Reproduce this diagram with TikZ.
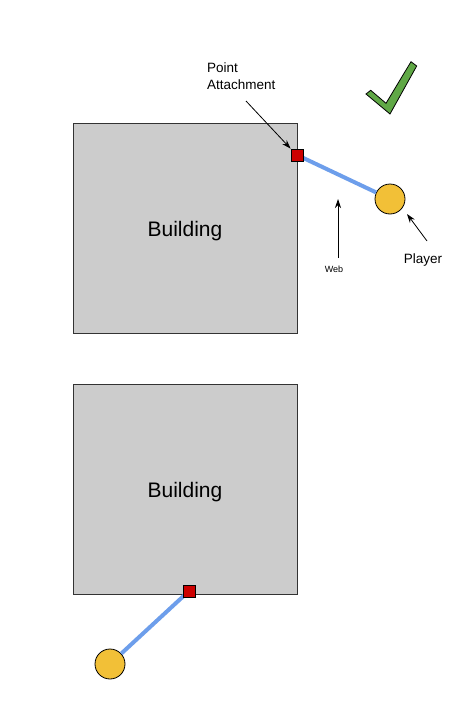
\documentclass[tikz,border=0pt]{standalone}
\usepackage{fontspec}
\setmainfont{Liberation Sans}
\usetikzlibrary{arrows.meta}
\definecolor{bgray}{HTML}{CCCCCC}
\definecolor{attred}{HTML}{CC0000}
\definecolor{pyellow}{HTML}{F2C037}
\definecolor{webblue}{HTML}{6D9EEB}
\definecolor{chkgreen}{HTML}{60A846}
\tikzset{
  building/.style={draw=black!80, fill=bgray, line width=0.8pt, minimum width=224pt, minimum height=210pt, inner sep=0pt, font=\fontsize{21}{24}\selectfont},
  attach/.style={draw=black, fill=attred, line width=0.8pt, minimum size=12pt, inner sep=0pt},
  player/.style={circle, draw=black, fill=pyellow, line width=0.8pt, minimum size=30pt, inner sep=0pt},
  web/.style={draw=webblue, line width=4pt},
  callout/.style={draw=black, line width=0.8pt, -{Stealth[length=9pt,width=6pt]}},
  lbl/.style={inner sep=0pt, font=\fontsize{13.5}{17}\selectfont, align=left}
}
\begin{document}
\begin{tikzpicture}[x=1pt,y=-1pt]
\useasboundingbox (0,0) rectangle (463,717);
% top scene
\node[building] (b1) at (185,228) {};
\node[font=\fontsize{21}{24}\selectfont] (t1) at (185,231) {Building};
\node[attach] (a1) at (297,155) {};
\node[player] (p1) at (390,199) {};
\draw[web] (a1) -- (p1);
\node[attach] at (297,155) {};
\node[lbl, anchor=north west] (pa) at (207,63) {Point\\Attachment};
\coordinate (pas) at (246,101);
\draw[callout] (pas) -- (a1.north west);
\node[inner sep=0pt, font=\fontsize{9}{11}\selectfont] (wl) at (334,269) {Web};
\coordinate (ws) at (338,258);
\coordinate (we) at (338,199);
\draw[callout] (ws) -- (we);
\node[lbl] (pl) at (423,260) {Player};
\coordinate (ps) at (427,241);
\coordinate (pe) at (407,214);
\draw[callout] (ps) -- (pe);
% checkmark
\draw[fill=chkgreen, draw=black, line width=0.8pt, line join=miter]
  (366,94) -- (370.7,90.3) -- (386,103.3) -- (411,61.7) -- (416.7,66) -- (390,114) -- cycle;
% bottom scene
\node[building] (b2) at (185,489) {};
\node[font=\fontsize{21}{24}\selectfont] (t2) at (185,492) {Building};
\node[player] (p2) at (110,664) {};
\coordinate (a2c) at (189,591);
\draw[web] (a2c) -- (p2);
\node[attach] (a2) at (189,591) {};
\end{tikzpicture}
\end{document}
